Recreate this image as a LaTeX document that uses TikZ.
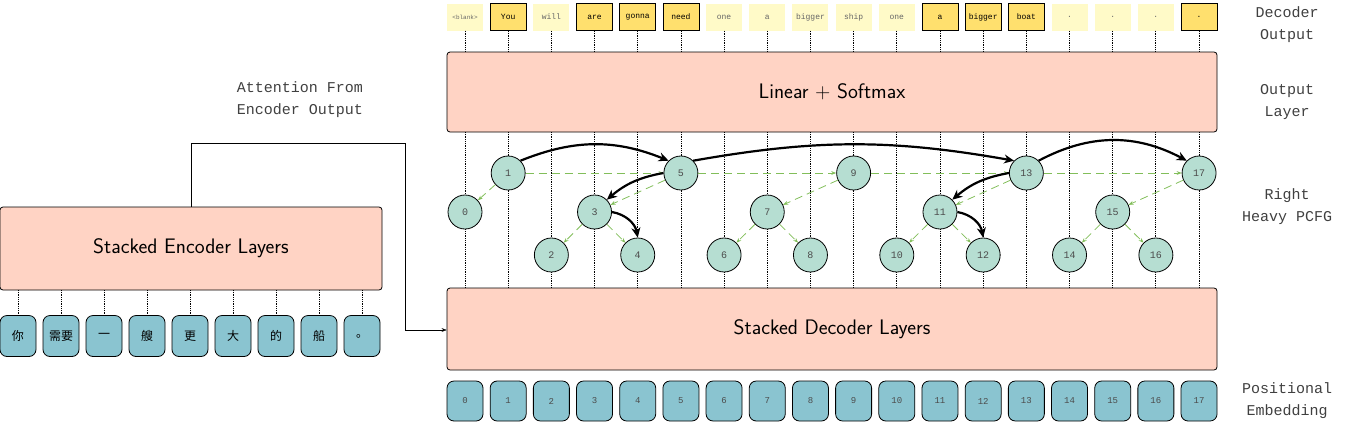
\documentclass[tikz,border=0pt]{standalone}
\usepackage{fontspec}
\newfontfamily\cjk{Noto Sans CJK SC}
\newfontfamily\mono{Liberation Mono}
\usetikzlibrary{arrows.meta}
\definecolor{salmon}{RGB}{255,211,196}
\definecolor{paley}{RGB}{255,250,200}
\definecolor{hiy}{RGB}{255,224,110}
\definecolor{tealb}{RGB}{138,196,208}
\definecolor{mint}{RGB}{182,222,210}
\definecolor{grn}{RGB}{130,190,90}
\tikzset{
 bigbox/.style={draw,thick,fill=salmon,rounded corners=3pt,font=\sffamily\fontsize{21}{24}\selectfont},
 outlo/.style={fill=paley,minimum width=36pt,minimum height=27pt,inner sep=0pt,font=\mono\fontsize{8}{9}\selectfont,text=black!60},
 outhi/.style={draw,thick,fill=hiy,minimum width=36pt,minimum height=27pt,inner sep=0pt,font=\mono\fontsize{8}{9}\selectfont},
 posbox/.style={draw,thick,fill=tealb,rounded corners=7pt,minimum width=36pt,minimum height=40pt,inner sep=0pt,font=\mono\fontsize{9}{10}\selectfont,text=black!70},
 srcbox/.style={draw,thick,fill=tealb,rounded corners=7pt,minimum width=36pt,minimum height=41pt,inner sep=0pt,font=\cjk\fontsize{12}{14}\selectfont},
 tn/.style={circle,draw,thick,fill=mint,minimum size=34pt,inner sep=0pt,font=\mono\fontsize{10}{11}\selectfont,text=black!70},
 dotln/.style={densely dotted,thick},
 ga/.style={grn,thick,dash pattern=on 8pt off 5pt,-{Stealth[length=5pt]}},
 ba/.style={line width=2.2pt,-{Stealth[length=10pt,width=9pt]}},
 lab/.style={font=\mono\fontsize{15}{22}\selectfont,align=center,text=black!75},
}
\begin{document}
\begin{tikzpicture}[x=1pt,y=1pt]
\useasboundingbox (0,0) rectangle (1348,-429);
% big boxes
\node[bigbox,minimum width=770pt,minimum height=80pt] (out) at (832,-92) {Linear + Softmax};
\node[bigbox,minimum width=770pt,minimum height=82pt] (dec) at (832,-329) {Stacked Decoder Layers};
\node[bigbox,minimum width=382pt,minimum height=83pt] (enc) at (191,-248.5) {Stacked Encoder Layers};
% decoder outputs
\foreach \w/\s [count=\i from 0] in {{\textless blank\textgreater}/outlo,You/outhi,will/outlo,are/outhi,gonna/outhi,need/outhi,one/outlo,a/outlo,bigger/outlo,ship/outlo,one/outlo,a/outhi,bigger/outhi,boat/outhi,./outlo,./outlo,./outlo,./outhi}{
 \pgfmathsetmacro\cx{465+43.18*\i}
 \node[\s] (o\i) at (\cx,-17) {\ifnum\i=0 \fontsize{6}{7}\selectfont\fi\w};
 \draw[dotln] (o\i.south) -- (\cx,-52);
 \node[posbox] (p\i) at (\cx,-401) {\i};
 \draw[dotln] (\cx,-132) -- (\cx,-288);
}
% tree
\foreach \i/\yy in {1/173,5/173,9/173,13/173,17/173,0/212,3/212,7/212,11/212,15/212,2/255,4/255,6/255,8/255,10/255,12/255,14/255,16/255}{
 \pgfmathsetmacro\cx{465+43.18*\i}
 \node[tn] (t\i) at (\cx,-\yy) {\i};
}
\foreach \a/\b in {1/5,5/9,9/13,13/17,1/0,5/3,9/7,13/11,17/15,3/2,3/4,7/6,7/8,11/10,11/12,15/14,15/16}
 \draw[ga] (t\a) -- (t\b);
\draw[ba] (t1.north east) to[bend left=22] (t5.north west);
\draw[ba] (t5.north east) to[bend left=10] (t13.north west);
\draw[ba] (t13.north east) to[bend left=28] (t17.north west);
\draw[ba] (t5.west) to[bend right=15] (t3.north east);
\draw[ba] (t13.west) to[bend right=15] (t11.north east);
\draw[ba] (t3.east) to[bend left=35] (t4.north);
\draw[ba] (t11.east) to[bend left=35] (t12.north);
% source tokens
\foreach \w [count=\i from 0] in {你,需要,一,艘,更,大,的,船,。}{
 \pgfmathsetmacro\cx{18+43*\i}
 \node[srcbox] (s\i) at (\cx,-336) {\w};
 \draw[dotln] (\cx,-290) -- (s\i.north);
}
% attention connector
\coordinate (c1) at (191,-143);
\coordinate (c2) at (405,-143);
\coordinate (c3) at (405,-330);
\draw[-{Stealth[length=5pt]}] (enc.north) -- (c1) -- (c2) -- (c3) -- (dec.west|-c3);
\node[lab] (att) at (300,-100) {Attention From\\Encoder Output};
% right labels
\node[lab] (l1) at (1287,-25) {Decoder\\Output};
\node[lab] (l2) at (1287,-102) {Output\\Layer};
\node[lab] (l3) at (1287,-207) {Right\\Heavy PCFG};
\node[lab] (l4) at (1287,-401) {Positional\\Embedding};
\end{tikzpicture}
\end{document}
